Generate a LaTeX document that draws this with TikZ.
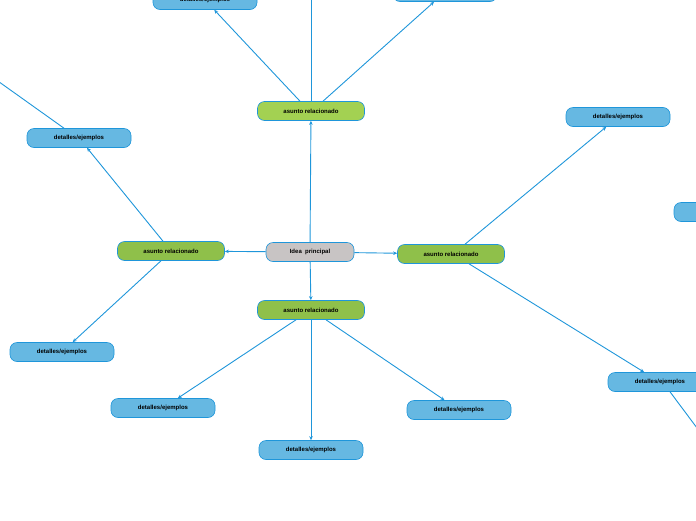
\documentclass[tikz,border=0pt]{standalone}
\usepackage{fontspec}
\setmainfont{Liberation Sans}
\usetikzlibrary{arrows.meta}
\begin{document}
\begin{tikzpicture}[x=1pt,y=-1pt,
 base/.style={draw=edge,rounded corners=7pt,minimum height=19pt,inner sep=1pt,font=\bfseries\fontsize{6}{7}\selectfont,line width=0.6pt},
 mainbox/.style={base,fill=grayf,minimum width=88pt},
 topic/.style={base,fill=greenf,minimum width=107pt},
 detail/.style={base,fill=bluef,minimum width=104pt},
 link/.style={draw=edge,line width=0.9pt,-{Stealth[length=4pt,width=3.5pt]}},
 plain/.style={draw=edge,line width=0.9pt}]
\definecolor{edge}{HTML}{1F96DA}
\definecolor{grayf}{HTML}{C8C4C4}
\definecolor{greenf}{HTML}{8FC04A}
\definecolor{greenl}{HTML}{A3D152}
\definecolor{bluef}{HTML}{66B8E2}
\useasboundingbox (0,0) rectangle (696,520);
\node[mainbox] (m) at (310,252) {Idea\ \ principal};
\node[topic,fill=greenl] (t) at (311,111) {asunto relacionado};
\node[topic] (l) at (171,251) {asunto relacionado};
\node[topic] (r) at (451,254) {asunto relacionado};
\node[topic] (b) at (311,310) {asunto relacionado};
\node[detail] (t1) at (205,0) {detalles/ejemplos};
\node[detail] (t2) at (445,-8) {detalles/ejemplos};
\node[detail] (l1) at (79,138) {detalles/ejemplos};
\node[detail] (l2) at (62,352) {detalles/ejemplos};
\node[detail] (b1) at (163,408) {detalles/ejemplos};
\node[detail] (b2) at (311,450) {detalles/ejemplos};
\node[detail] (b3) at (459,410) {detalles/ejemplos};
\node[detail] (r1) at (618,117) {detalles/ejemplos};
\node[detail] (r2) at (726,212) {detalles/ejemplos};
\node[detail] (r3) at (660,382) {detalles/ejemplos};
\coordinate (tu) at (311.5,-5);
\coordinate (lu) at (-5,79);
\coordinate (rd) at (700,432);
\draw[link] (m) -- (t);
\draw[link] (m) -- (l);
\draw[link] (m) -- (r);
\draw[link] (m) -- (b);
\draw[link] ([xshift=-11pt]t.north) -- (t1);
\draw[link] ([xshift=12pt]t.north) -- (t2);
\draw[plain] ([xshift=0.5pt]t.north) -- (tu);
\draw[link] ([xshift=-8pt]l.north) -- (l1);
\draw[plain] ([xshift=-15pt]l1.north) -- (lu);
\draw[link] ([xshift=-10pt]l.south) -- (l2);
\draw[link] ([xshift=-15pt]b.south) -- (b1);
\draw[link] (b) -- (b2);
\draw[link] ([xshift=15pt]b.south) -- (b3);
\draw[link] ([xshift=14pt]r.north) -- (r1);
\draw[link] ([xshift=18pt]r.south) -- (r3);
\draw[plain] ([xshift=10pt]r3.south) -- (rd);
\end{tikzpicture}
\end{document}
